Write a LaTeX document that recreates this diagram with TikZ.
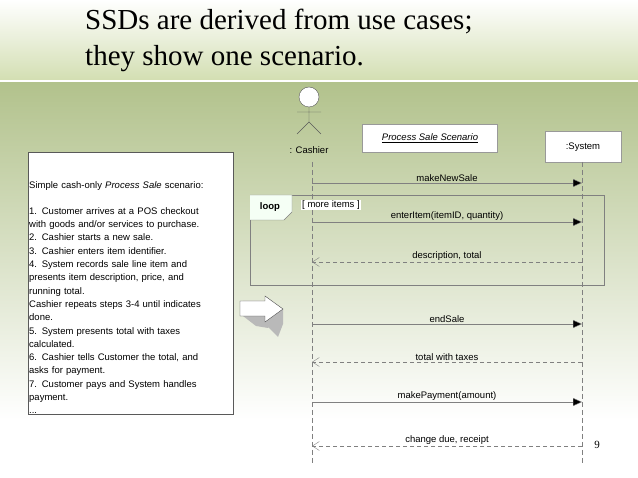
\documentclass[tikz,border=0pt]{standalone}
\usepackage{fontspec}
\setmainfont{Liberation Serif}
\setsansfont{Liberation Sans}
\usetikzlibrary{arrows.meta}
\begin{document}
\begin{tikzpicture}[x=1pt,y=-1pt,
  lbl/.style={font=\sffamily\fontsize{9.5}{10}\selectfont, inner sep=1pt},
  lifeline/.style={draw=gray, dashed, dash pattern=on 5pt off 3pt},
  call/.style={draw=gray, -{Triangle[length=9pt,width=8pt,fill=black]}},
  ret/.style={draw=gray, dashed, dash pattern=on 4pt off 3pt, -{Straight Barb[length=7pt,width=9pt,gray]}},
  box/.style={draw=gray!80, fill=white}]
\useasboundingbox (0,0) rectangle (638,478);
\fill[top color=white, bottom color=green!15!olive!30!white] (0,0) rectangle (638,80);
\fill[top color={rgb,255:red,178;green,194;blue,140}, bottom color=white] (0,82) rectangle (638,420);
\fill[white] (0,420) rectangle (638,478);
\draw[white, line width=2pt] (0,81) -- (638,81);
\node[anchor=base west, font=\fontsize{29}{30}\selectfont, inner sep=0] (t1) at (85,30) {SSDs are derived from use cases;};
\node[anchor=base west, font=\fontsize{29}{30}\selectfont, inner sep=0] (t2) at (85,66) {they show one scenario.};
% actor
\draw[gray!70!black, fill=white] (309,97) circle (10);
\draw[gray!70!black] (309,107) -- (309,122) (297,112) -- (321,112) (297,134) -- (309,122) -- (321,134);
\node[lbl] (cashier) at (309,150) {: Cashier};
\node[box, minimum width=135, minimum height=28, lbl] (ps) at (430,138) {\itshape\underline{Process Sale Scenario}};
\node[box, minimum width=76, minimum height=31, lbl] (sys) at (583,147) {:System};
\coordinate (c0) at (312,162); \coordinate (c1) at (312,465);
\coordinate (s0) at (582,162); \coordinate (s1) at (582,465);
\draw[lifeline] (c0) -- (c1);
\draw[lifeline] (s0) -- (s1);
% loop
\draw[gray] (250,195) rectangle (604,285);
\draw[gray, fill=white!60!green!10] (250,195) -- (292,195) -- (292,212) -- (284,220) -- (250,220);
\node[lbl, font=\sffamily\bfseries\fontsize{9.5}{10}\selectfont] (loop) at (270,207) {loop};
\node[lbl, fill=white] (guard) at (331,205) {[ more items ]};
% messages
\foreach \y/\t/\s in {183/makeNewSale/call, 222/{enterItem(itemID, quantity)}/call, 324/endSale/call, 402/makePayment(amount)/call}{
  \coordinate (a) at (312,\y); \coordinate (b) at (582,\y);
  \draw[\s] (a) -- node[lbl, above] {\t} (b);}
\foreach \y/\t in {262/{description, total}, 362/total with taxes, 446/{change due, receipt}}{
  \coordinate (a) at (582,\y); \coordinate (b) at (312,\y);
  \draw[ret] (a) -- node[lbl, above] {\t} (b);}
\node[font=\fontsize{11}{12}\selectfont] (pg) at (597,445) {9};
% left text box
\node[draw=gray!70!black, fill=white, anchor=north west, minimum width=205, minimum height=262, inner sep=0] (tb) at (28,152) {};
\node[anchor=north west, align=left, font=\sffamily\fontsize{9.5}{13.3}\selectfont, text width=204, inner sep=0] (tx) at (29,181) {Simple cash-only \textit{Process Sale} scenario:\\[13pt]
1. Customer arrives at a POS checkout\\
with goods and/or services to purchase.\\
2. Cashier starts a new sale.\\
3. Cashier enters item identifier.\\
4. System records sale line item and\\
presents item description, price, and\\
running total.\\
Cashier repeats steps 3-4 until indicates\\
done.\\
5. System presents total with taxes\\
calculated.\\
6. Cashier tells Customer the total, and\\
asks for payment.\\
7. Customer pays and System handles\\
payment.\\
...};
% block arrow
\fill[gray!55] (243,301) -- (265,301) -- (265,296) -- (283,309) -- (283,324) -- (278,337) -- (268,327) -- (268,328) -- (256,326) -- (243,316) -- cycle;
\draw[gray!60!black, fill=white] (240,301) -- (265,301) -- (265,296) -- (283,309) -- (265,322) -- (265,316) -- (240,316) -- cycle;
\end{tikzpicture}
\end{document}
